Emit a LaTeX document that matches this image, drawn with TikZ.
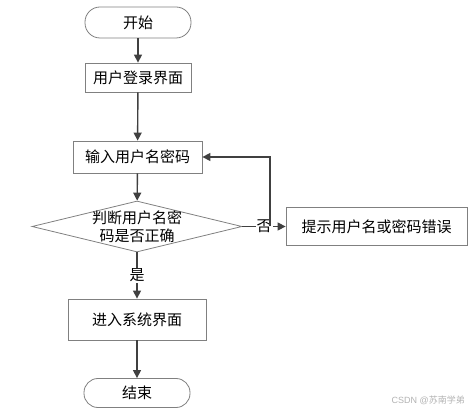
\documentclass[tikz,border=0pt]{standalone}
\usepackage{fontspec}
\setmainfont{Noto Sans CJK SC}
\newfontfamily\wmfont{Liberation Sans}
\usetikzlibrary{shapes.geometric,arrows.meta}
\tikzset{
  txt/.style={font=\fontsize{15}{17}\selectfont},
  box/.style={draw=black!50, line width=0.8pt, rectangle, minimum height=#1, inner sep=2pt, txt},
  term/.style={draw=black!50, line width=0.8pt, rectangle, rounded corners=15pt, minimum width=106pt, minimum height=31pt, txt},
  dec/.style={draw=black!50, line width=0.8pt, diamond, aspect=4.1, minimum width=210pt, minimum height=51pt, inner sep=0pt},
  flow/.style={draw=black!75, line width=1.4pt, -{Triangle[length=8pt,width=8pt]}},
  lbl/.style={fill=white, inner sep=1pt, txt},
}
\begin{document}
\begin{tikzpicture}[x=1pt,y=-1pt]
\useasboundingbox (0,0) rectangle (474,411);
\node[term] (start) at (138,22.5) {开始};
\node[box=29pt, minimum width=106pt] (login) at (138,77.5) {用户登录界面};
\node[box=32pt, minimum width=129pt] (input) at (137.5,157) {输入用户名密码};
\node[dec] (judge) at (137,226.5) {};
\node[txt, align=center, inner sep=0pt] (judgetext) at (judge.center) {判断用户名密\\[1pt]码是否正确};
\node[box=38pt, minimum width=181pt] (tip) at (376.5,226.5) {提示用户名或密码错误};
\node[box=41pt, minimum width=138pt] (sys) at (137,319.5) {进入系统界面};
\node[term, minimum height=29pt, rounded corners=14pt] (end) at (137,393) {结束};
\coordinate (branch) at (270,226.5);
\draw[flow] (start) -- (login);
\draw[flow] (login) -- (input);
\draw[flow] (input) -- (judge);
\draw[flow] (judge.east) -- node[lbl, pos=0.5] {否} (tip.west);
\draw[flow] (branch) |- (input.east);
\draw[flow] (judge.south) -- node[lbl, pos=0.5] {是} (sys.north);
\draw[flow] (sys) -- (end);
\node[text=black!30, font=\wmfont\fontsize{9}{10}\selectfont, inner sep=0pt, anchor=east] (wm) at (465,400) {CSDN @{\fontspec{Noto Sans CJK SC}苏南学弟}};
\end{tikzpicture}
\end{document}
